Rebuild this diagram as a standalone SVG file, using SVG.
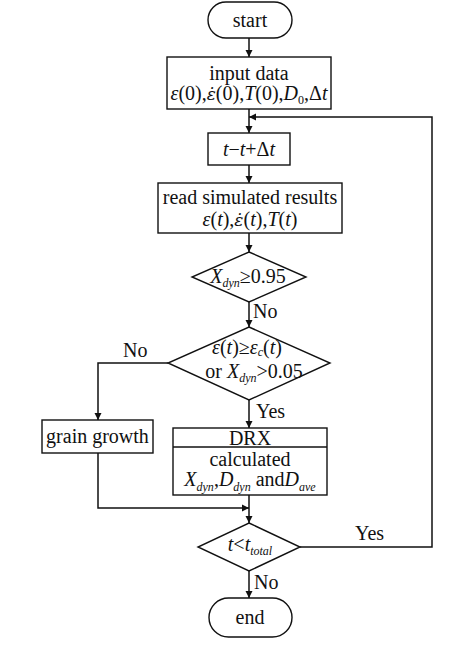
<svg xmlns="http://www.w3.org/2000/svg" width="474" height="657" viewBox="0 0 474 657" font-family="'Liberation Serif','DejaVu Serif',serif">
<style>
.s{fill:#fff;stroke:#111;stroke-width:1.4}
.c{fill:none;stroke:#111;stroke-width:1.5}
text{font-family:'Liberation Serif','DejaVu Serif',serif;font-size:20px;fill:#111}
.m{text-anchor:middle}
.i{font-style:italic}
.d{font-style:italic;font-family:'DejaVu Serif',serif;font-size:17px}
.sub{font-size:12px;font-style:italic}
</style>
<defs>
<marker id="a" viewBox="0 0 10 10" refX="10" refY="5" markerWidth="7" markerHeight="8" markerUnits="userSpaceOnUse" orient="auto">
<path d="M0,0 L10,5 L0,10 z" fill="#111"/>
</marker>
</defs>
<rect width="474" height="657" fill="#fff"/>
<g id="connectors">
<path class="c" d="M249,38 V57" marker-end="url(#a)"/>
<path class="c" d="M249,109 V133" marker-end="url(#a)"/>
<path class="c" d="M249,165 V183" marker-end="url(#a)"/>
<path class="c" d="M249,233 V252" marker-end="url(#a)"/>
<path class="c" d="M249,302 V327" marker-end="url(#a)"/>
<path class="c" d="M168,363 H98 V420" marker-end="url(#a)"/>
<path class="c" d="M249,400 V428" marker-end="url(#a)"/>
<path class="c" d="M249,495 V523" marker-end="url(#a)"/>
<path class="c" d="M98,453 V508 H249" marker-end="url(#a)"/>
<path class="c" d="M300,547 H432 V117 H249" marker-end="url(#a)"/>
<path class="c" d="M249,571 V598" marker-end="url(#a)"/>
<text x="253" y="318">No</text>
<text x="123" y="357">No</text>
<text x="256" y="418">Yes</text>
<text x="355" y="540">Yes</text>
<text x="254" y="589">No</text>
</g>
<g id="start">
<rect class="s" x="208" y="2" width="84" height="36" rx="18"/>
<text class="m" x="250" y="27">start</text>
</g>
<g id="input">
<rect class="s" x="167" y="57" width="164" height="52"/>
<text class="m" x="249" y="80">input data</text>
<text class="m" x="249" y="100"><tspan class="i">ε</tspan>(0),<tspan class="d">ε̇</tspan>(0),<tspan class="i">T</tspan>(0),<tspan class="i">D</tspan><tspan font-size="12" dy="4">0</tspan><tspan dy="-4">,Δ</tspan><tspan class="i">t</tspan></text>
</g>
<g id="update">
<rect class="s" x="208" y="133" width="82" height="32"/>
<text class="m" x="249" y="156"><tspan class="i">t</tspan>−<tspan class="i">t</tspan>+Δ<tspan class="i">t</tspan></text>
</g>
<g id="read">
<rect class="s" x="158" y="183" width="184" height="50"/>
<text class="m" x="250" y="204">read simulated results</text>
<text class="m" x="250" y="226"><tspan class="i">ε</tspan>(<tspan class="i">t</tspan>),<tspan class="d">ε̇</tspan>(<tspan class="i">t</tspan>),<tspan class="i">T</tspan>(<tspan class="i">t</tspan>)</text>
</g>
<g id="check1">
<polygon class="s" points="249,252 306,277 249,302 192,277"/>
<text class="m" x="248" y="283"><tspan class="i">X</tspan><tspan class="sub" dy="4">dyn</tspan><tspan dy="-4">≥0.95</tspan></text>
</g>
<g id="check2">
<polygon class="s" points="249,327 330,363 249,400 168,363"/>
<text class="m" x="247" y="354" font-size="18"><tspan class="i">ε</tspan>(<tspan class="i">t</tspan>)≥<tspan class="i">ε</tspan><tspan class="sub" dy="2">c</tspan><tspan dy="-2">(</tspan><tspan class="i">t</tspan>)</text>
<text class="m" x="254" y="378" font-size="19">or  <tspan class="i">X</tspan><tspan class="sub" dy="4">dyn</tspan><tspan dy="-4">&gt;0.05</tspan></text>
</g>
<g id="grain">
<rect class="s" x="42" y="420" width="111" height="33"/>
<text class="m" x="97.5" y="443">grain growth</text>
</g>
<g id="drx">
<rect class="s" x="173" y="428" width="154" height="67"/>
<line class="s" x1="173" y1="447" x2="327" y2="447"/>
<text class="m" x="250" y="445">DRX</text>
<text class="m" x="250" y="466">calculated</text>
<text class="m" x="250" y="486"><tspan class="i">X</tspan><tspan class="sub" dy="5">dyn</tspan><tspan dy="-5">,</tspan><tspan class="i">D</tspan><tspan class="sub" dy="5">dyn</tspan><tspan dy="-5"> and</tspan><tspan class="i">D</tspan><tspan class="sub" dy="5">ave</tspan></text>
</g>
<g id="check3">
<polygon class="s" points="249,523 300,547 249,571 198,547"/>
<text class="m" x="250" y="551" font-size="17"><tspan class="i">t</tspan>&lt;<tspan class="i">t</tspan><tspan class="sub" dy="4">total</tspan></text>
</g>
<g id="end">
<rect class="s" x="209" y="598" width="83" height="39" rx="19.5"/>
<text class="m" x="250" y="624">end</text>
</g>
</svg>
